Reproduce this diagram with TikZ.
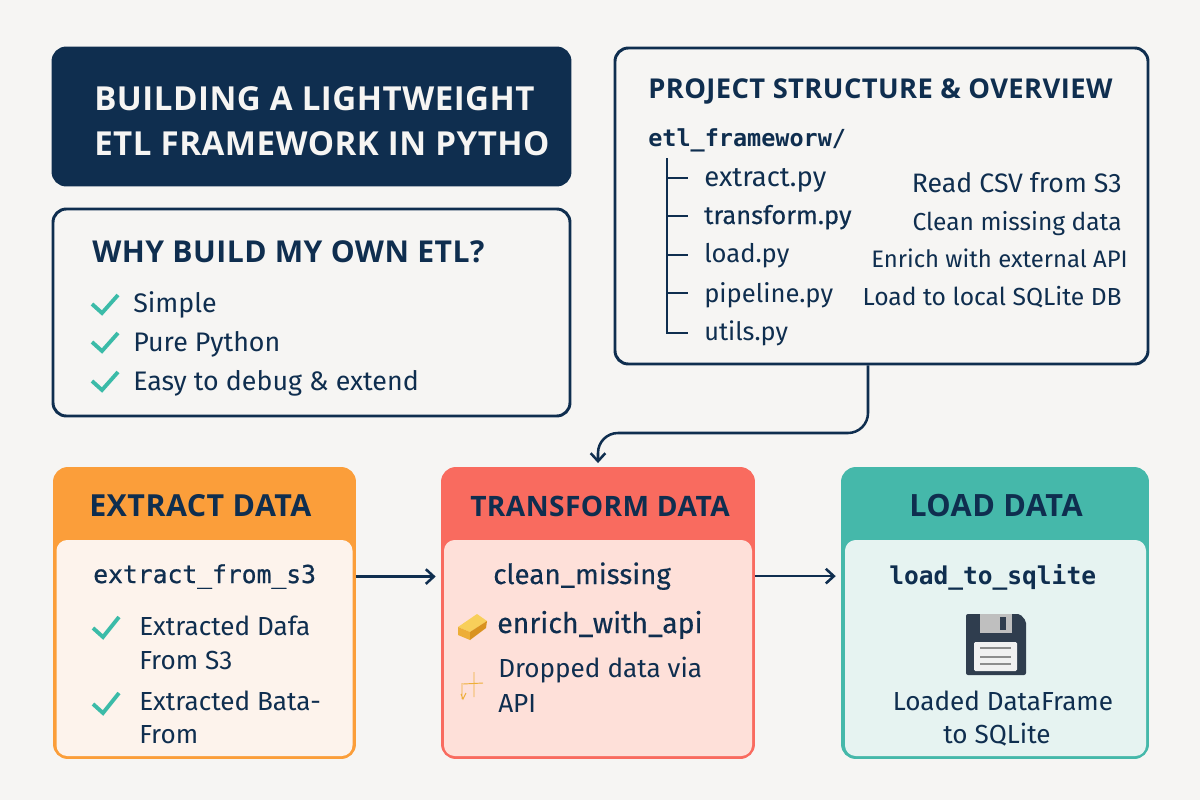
\documentclass[tikz,border=0pt]{standalone}
\usepackage{fontspec}
\usetikzlibrary{arrows.meta}
\setmainfont{Fira Sans}
\newfontfamily\boldf[LetterSpace=1.5]{Open Sans}
\newfontfamily\medf[FakeBold=0.35]{Fira Sans}
\newfontfamily\monof[FakeBold=0.8]{DejaVu Sans Mono}
\newfontfamily\monob{DejaVu Sans Mono}
\definecolor{bgc}{HTML}{F6F5F3}
\definecolor{navy}{HTML}{0F2E4F}
\definecolor{orangec}{HTML}{FB9E3A}
\definecolor{orangef}{HTML}{FDF3EC}
\definecolor{redc}{HTML}{F96B5F}
\definecolor{redf}{HTML}{FEE0D9}
\definecolor{tealc}{HTML}{45B8AA}
\definecolor{tealf}{HTML}{E6F3F1}
\definecolor{checkc}{HTML}{3BBBA8}
\definecolor{goldl}{HTML}{F8CF5A}
\definecolor{goldm}{HTML}{EDAE38}
\definecolor{goldd}{HTML}{D9921F}
\definecolor{diskc}{HTML}{2F3D4E}
\tikzset{
  x=0.75pt,y=-0.75pt,
  box/.style={draw=navy,line width=2.2pt,rounded corners=10pt,fill=bgc,inner sep=0pt},
  titlebox/.style={box,fill=navy},
  stage/.style={rounded corners=10pt,line width=2.2pt,inner sep=0pt},
  panel/.style={rounded corners=8pt,inner sep=0pt},
  txt/.style={anchor=base west,inner sep=0pt,text=navy,font=\fontsize{19.6}{24}\selectfont},
  txtsz/.style={txt,font=\fontsize{#1}{24}\selectfont},
  txtr/.style={txtsz=#1,anchor=base east},
  txtc/.style={txt,anchor=base},
  big/.style={txt,font=\boldf\bfseries\fontsize{24.8}{30}\selectfont},
  head/.style={txt,font=\boldf\bfseries\fontsize{#1}{26}\selectfont},
  mono/.style={txt,font=\monof\fontsize{18.5}{24}\selectfont},
  monobold/.style={txt,font=\monob\bfseries\fontsize{#1}{24}\selectfont},
  flow/.style={draw=navy,line width=1.9pt,-{Straight Barb[length=6pt,width=11pt,line width=1.9pt]}},
  chk/.style={draw=checkc,line width=2.9pt},
  treeline/.style={draw=navy,line width=1.9pt},
}
\begin{document}
\begin{tikzpicture}
\useasboundingbox (0,0) rectangle (1200,800);
\fill[bgc] (0,0) rectangle (1200,800);

% top left
\node[titlebox,minimum width=517*0.75pt,minimum height=137*0.75pt] (titlebg) at (311.5,116.5) {};
\node[big,text=bgc] (t1) at (94,110) {BUILDING A LIGHTWEIGHT};
\node[big,text=bgc] (t2) at (94,155) {ETL FRAMEWORK IN PYTHO};

\node[box,minimum width=517*0.75pt,minimum height=207*0.75pt] (why) at (311.5,312.5) {};
\node[head=22.6] (whyt) at (92,262) {WHY BUILD MY OWN ETL?};
\node[txtsz=20.1] (w1) at (133,312) {Simple};
\node[txtsz=20.1] (w2) at (133,351) {Pure Python};
\node[txtsz=20.1] (w3) at (133,390) {Easy to debug \& extend};
\draw[chk] (92,304) -- (102,313) -- (118,295);
\draw[chk] (92,342) -- (102,351) -- (118,333);
\draw[chk] (92,381) -- (102,390) -- (118,372);

% top right
\node[box,minimum width=533*0.75pt,minimum height=316*0.75pt] (proj) at (881.5,206) {};
\node[head=20.5] (pt) at (648,98) {PROJECT STRUCTURE \& OVERVIEW};
\node[monobold=17.6] (root) at (648,146) {etl\_frameworw/};
\node[txtsz=20.6] (f1) at (704,186) {extract.py};
\node[txt,font=\medf\fontsize{19.1}{24}\selectfont] (f2) at (704,224) {transform.py};
\node[txtsz=19.2] (f3) at (704,262) {load.py};
\node[txtsz=19.2] (f4) at (704,302) {pipeline.py};
\node[txtsz=19] (f5) at (704,340) {utils.py};
\node[txtr=20] (d1) at (1122,192) {Read CSV from S3};
\node[txtr=18.4] (d2) at (1122,230) {Clean missing data};
\node[txtr=17.9] (d3) at (1128,267) {Enrich with external API};
\node[txtr=18.5] (d4) at (1122,305) {Load to local SQLite DB};
\draw[treeline] (667,158) -- (667,333) -- (688,333);
\draw[treeline] (667,178) -- (688,178);
\draw[treeline] (667,216) -- (688,216);
\draw[treeline] (667,255) -- (688,255);
\draw[treeline] (667,293) -- (688,293);

% stages
\node[stage,draw=orangec,fill=orangec,minimum width=300*0.75pt,minimum height=289*0.75pt] (ex) at (204.5,613) {};
\node[panel,fill=orangef,minimum width=296*0.75pt,minimum height=216*0.75pt] (expanel) at (204.5,648) {};
\node[stage,draw=redc,fill=redc,minimum width=311*0.75pt,minimum height=289*0.75pt] (tr) at (598,613) {};
\node[panel,fill=redf,minimum width=308*0.75pt,minimum height=216*0.75pt] (trpanel) at (598,648) {};
\node[stage,draw=tealc,fill=tealc,minimum width=305*0.75pt,minimum height=289*0.75pt] (lo) at (995,613) {};
\node[panel,fill=tealf,minimum width=301*0.75pt,minimum height=216*0.75pt] (lopanel) at (995.5,648) {};

\node[head=22.8] (exh) at (89,516) {EXTRACT DATA};
\node[head=21.1] (trh) at (470,516) {TRANSFORM DATA};
\node[head=23] (loh) at (909,516) {LOAD DATA};

\node[mono] (exf) at (93,583) {extract\_from\_s3};
\node[txt] (e1) at (139,635) {Extracted Dafa};
\node[txt] (e2) at (139,669) {From S3};
\node[txt] (e3) at (139,710) {Extracted Bata-};
\node[txt] (e4) at (139,743) {From};
\draw[chk] (93,628) -- (103,637) -- (119,617);
\draw[chk] (93,704) -- (103,713) -- (119,693);

\node[txt,font=\medf\fontsize{20.8}{26}\selectfont] (trf1) at (493,584) {clean\_missing};
\node[txt,font=\medf\fontsize{21.3}{26}\selectfont] (trf2) at (497,633) {enrich\_with\_api};
\node[txt] (t3) at (498,677) {Dropped data via};
\node[txt] (t4) at (498,712) {API};
% gold bar
\fill[goldl] (458,627) -- (477,614) -- (487,621) -- (470,632) -- cycle;
\fill[goldm] (458,627) -- (470,632) -- (470,640) -- (458,635) -- cycle;
\fill[goldd] (470,632) -- (487,621) -- (486,628) -- (470,640) -- cycle;
% small gold mark
\draw[goldm,line width=0.7pt] (463,684) -- (483,683) (474,672) -- (474,697)
  (462,683) -- (462,699) (461,694) -- (463,699) -- (466,693);

\node[monobold=18.4] (lof) at (889,584) {load\_to\_sqlite};
\node[txtc] (l1) at (1003,710) {Loaded DataFrame};
\node[txtc] (l2) at (997,743) {to SQLite};
% floppy disk
\fill[diskc,rounded corners=1.5pt] (966,614) -- (1020,614) -- (1026,621) -- (1026,675) -- (966,675) -- cycle;
\fill[black!25!white] (980,614) rectangle (1012,633);
\fill[diskc] (1000,617) rectangle (1006,630);
\fill[black!6!white,rounded corners=1pt] (974,642) rectangle (1017,671);
\draw[black!45!white,line width=0.8pt] (980,648) -- (1011,648) (980,657) -- (1011,657) (980,664) -- (1011,664);

% connectors
\coordinate (bend) at (868,433);
\coordinate (drop) at (598,433);
\draw[flow,shorten >=4pt] (exf -| ex.east) -- (exf -| tr.west);
\draw[flow,shorten >=4pt] (trf1 -| tr.east) -- (trf1 -| lo.west);
\draw[flow,rounded corners=15pt,shorten >=3pt] (proj.south -| bend) -- (bend) -- (drop) -- (tr.north);
\end{tikzpicture}
\end{document}
